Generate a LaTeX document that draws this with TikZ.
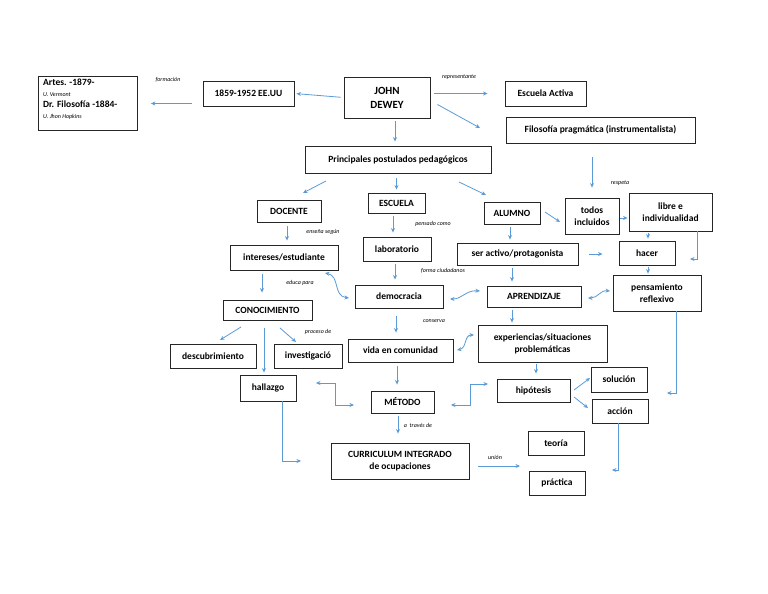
\documentclass[tikz,border=0pt]{standalone}
\usepackage{fontspec}
\setmainfont{Carlito}
\usetikzlibrary{arrows.meta,calc}
\definecolor{ab}{HTML}{5B9BD5}
\tikzset{
  bx/.style={draw=black!85,line width=0.9pt,inner sep=1pt,align=center,font=\bfseries\fontsize{9.5}{12}\selectfont},
  arr/.style={draw=ab,line width=0.8pt,-{Stealth[length=4.5pt,width=4pt]}},
  darr/.style={draw=ab,line width=0.8pt,{Stealth[length=4.5pt,width=4pt]}-{Stealth[length=4.5pt,width=4pt]}},
  lbl/.style={font=\itshape\fontsize{6}{7}\selectfont,inner sep=0pt}
}
\newcommand{\bx}[6]{\node[bx,minimum width={#4-#2},minimum height={#5-#3}] (#1) at ({(#2+#4)/2},{(#3+#5)/2}) {#6};}
\begin{document}
\begin{tikzpicture}[x=1pt,y=-1pt]
\useasboundingbox[fill=white] (0,0) rectangle (768,594);
% boxes
\node[bx,minimum width=99,minimum height=54,align=left,anchor=north west,inner sep=0pt] (artes) at (38,76) {};
\node[anchor=north west,align=left,inner sep=0pt] (artest) at (43,79) {{\bfseries\fontsize{9.5}{11}\selectfont Artes. -1879-}\\[-1pt]{\itshape\fontsize{6}{8}\selectfont U. Vermont}\\[-1pt]{\bfseries\fontsize{9.5}{11}\selectfont Dr. Filosofía -1884-}\\[-1pt]{\itshape\fontsize{6}{9}\selectfont U. Jhon Hopkins}};
\bx{anio}{203}{81}{294}{106}{1859-1952 EE.UU}
\node[bx,minimum width=86,minimum height=41,font=\bfseries\fontsize{11}{14}\selectfont] (john) at (387,97.5) {JOHN\\DEWEY};
\bx{activa}{505}{81}{586}{106}{Escuela Activa}
\bx{filo}{506}{117}{695}{143}{Filosofía pragmática (instrumentalista)}
\bx{prin}{305}{146}{491}{173}{Principales postulados pedagógicos}
\bx{docente}{257}{200}{321}{222}{DOCENTE}
\bx{escuela}{368}{193}{425}{213}{ESCUELA}
\bx{alumno}{484}{202}{540}{224}{ALUMNO}
\bx{todos}{565}{198}{619}{234}{todos\\incluidos}
\bx{libre}{629}{193}{712}{231}{libre e\\individualidad}
\bx{intereses}{230}{245}{338}{270}{intereses/estudiante}
\bx{lab}{363}{237}{431}{261}{laboratorio}
\bx{ser}{457}{243}{578}{265}{ser activo/protagonista}
\bx{hacer}{619}{241}{675}{265}{hacer}
\bx{demo}{355}{285}{443}{308}{democracia}
\bx{apre}{487}{286}{581}{307}{APRENDIZAJE}
\bx{pens}{613}{275}{701}{311}{pensamiento\\reflexivo}
\bx{cono}{223}{300}{312}{320}{CONOCIMIENTO}
\bx{desc}{170}{344}{256}{368}{descubrimiento}
\bx{inv}{274}{344}{342}{368}{investigació}
\bx{vida}{348}{339}{453}{362}{vida en comunidad}
\bx{exp}{478}{325}{607}{362}{experiencias/situaciones\\problemáticas}
\bx{hall}{240}{375}{296}{401}{hallazgo}
\bx{met}{371}{391}{434}{413}{MÉTODO}
\bx{hip}{497}{379}{570}{402}{hipótesis}
\bx{sol}{591}{367}{647}{392}{solución}
\bx{acc}{592}{399}{648}{423}{acción}
\bx{teo}{528}{431}{584}{455}{teoría}
\bx{cur}{331}{443}{469}{479}{CURRICULUM INTEGRADO\\de ocupaciones}
\bx{prac}{529}{471}{585}{495}{práctica}
% labels
\node[lbl] (l1) at (168,80) {formación};
\node[lbl] (l2) at (459,77) {representante};
\node[lbl] (l3) at (620,183) {respeta};
\node[lbl] (l4) at (323,232) {enseña según};
\node[lbl] (l5) at (433,224) {pensado como};
\node[lbl] (l6) at (443,271) {forma ciudadanos};
\node[lbl] (l7) at (300,283) {educa para};
\node[lbl] (l8) at (318,332) {proceso de};
\node[lbl] (l9) at (434,321) {conserva};
\node[lbl] (l10) at (418,425) {a\ \ través de};
\node[lbl] (l11) at (495,457) {unión};
% straight arrows (with gaps)
\draw[arr,shorten <=3pt,shorten >=2pt] (john.west) -- (anio.east);
\draw[arr,shorten <=11pt,shorten >=13pt] (anio.west) ++(0,10) coordinate (a1) -- (a1-|artes.east);
\draw[arr,shorten <=4pt,shorten >=17pt] (john.east) ++(0,-4) coordinate (j1) -- (j1-|activa.west);
\draw[arr] ($(john.east)+(7,7)$) coordinate (j2) -- (480,128) coordinate (j3);
\draw[arr,shorten <=3pt,shorten >=4pt] (john.south -| prin.north) ++(-3,0) coordinate (j4) -- (j4|-prin.north);
\draw[arr,shorten <=14pt,shorten >=10pt] (todos.north|-filo.south) coordinate (f1) -- (todos.north);
\draw[arr] (326,181) coordinate (p1) -- (303,193) coordinate (p2);
\draw[arr,shorten <=5pt,shorten >=3pt] (escuela.north|-prin.south) coordinate (p3) -- (escuela.north);
\draw[arr] (459,182) coordinate (p4) -- (486,195) coordinate (p5);
\draw[arr] (545,212) coordinate (al1) -- (560,222) coordinate (al2);
\draw[arr,shorten <=1pt,shorten >=1pt] (todos.east|-todos.center) ++(0,2) coordinate (t1) -- (t1-|libre.west);
\draw[arr,shorten <=2pt,shorten >=2pt] (648,231) coordinate (lb1) -- (lb1|-hacer.north);
\draw[arr] (697,231) coordinate (lb2) -- (697,259) -- (690,259) coordinate (lb3);
\draw[arr,shorten <=3pt,shorten >=3pt] (510,224) coordinate (al3) -- (al3|-ser.north);
\draw[arr,shorten <=11pt,shorten >=16pt] (ser.east) -- (ser.east-|hacer.west);
\draw[arr,shorten <=2pt,shorten >=1pt] (648,265) coordinate (h1) -- (h1|-pens.north);
\draw[arr,shorten <=3pt,shorten >=4pt] (512,265) coordinate (s1) -- (s1|-apre.north);
\draw[darr] (588,298) coordinate (c1) .. controls (598,298) and (600,290) .. (610,291) coordinate (c2);
\draw[darr] (450,299) coordinate (c3) .. controls (462,299) and (466,290) .. (480,291) coordinate (c4);
\draw[arr] (676,311) coordinate (pn1) -- (676,393) -- (667,393) coordinate (pn2);
\draw[arr,shorten <=4pt,shorten >=4pt] (287,222) coordinate (d1) -- (d1|-intereses.north);
\draw[arr,shorten <=3pt,shorten >=4pt] (393,213) coordinate (e1) -- (e1|-lab.north);
\draw[arr,shorten <=3pt,shorten >=5pt] (395,261) coordinate (lb4) -- (lb4|-demo.north);
\draw[darr] (325,273) coordinate (c5) .. controls (340,276) and (333,296) .. (349,298) coordinate (c6);
\draw[arr,shorten <=4pt,shorten >=7pt] (262,270) coordinate (i1) -- (i1|-cono.north);
\draw[arr] (241,327) coordinate (k1) -- (220,340) coordinate (k2);
\draw[arr,shorten <=8pt,shorten >=2pt] (264,320) coordinate (k3) -- (k3|-hall.north);
\draw[arr] (280,328) coordinate (k4) -- (296,342) coordinate (k5);
\draw[arr,shorten <=8pt,shorten >=6pt] (396,308) coordinate (dm1) -- (dm1|-vida.north);
\draw[darr] (457,350) coordinate (c7) .. controls (467,348) and (464,335) .. (474,335) coordinate (c8);
\draw[arr,shorten <=3pt,shorten >=2pt] (512,307) coordinate (ap1) -- (ap1|-exp.north);
\draw[arr,shorten <=2pt,shorten >=5pt] (536,362) coordinate (ex1) -- (ex1|-hip.north);
\draw[arr,shorten <=4pt,shorten >=6pt] (397,362) coordinate (v1) -- (v1|-met.north);
\draw[darr] (316,383) coordinate (m1) -- (335,383) -- (335,405) -- (354,405) coordinate (m2);
\draw[darr] (451,405) coordinate (m3) -- (470,405) -- (470,384) -- (488,384) coordinate (m4);
\draw[arr] (574,390) coordinate (hp1) -- (590,378) coordinate (hp2);
\draw[arr] (574,397) coordinate (hp3) -- (588,408) coordinate (hp4);
\draw[arr] (618,423) coordinate (ac1) -- (618,470) -- (612,470) coordinate (ac2);
\draw[arr,shorten <=3pt,shorten >=9pt] (398,413) coordinate (mt1) -- (mt1|-cur.north);
\draw[arr] (282,401) coordinate (hl1) -- (282,461) -- (301,461) coordinate (hl2);
\draw[arr] (478,466) coordinate (u1) -- (520,466) coordinate (u2);
\end{tikzpicture}
\end{document}
